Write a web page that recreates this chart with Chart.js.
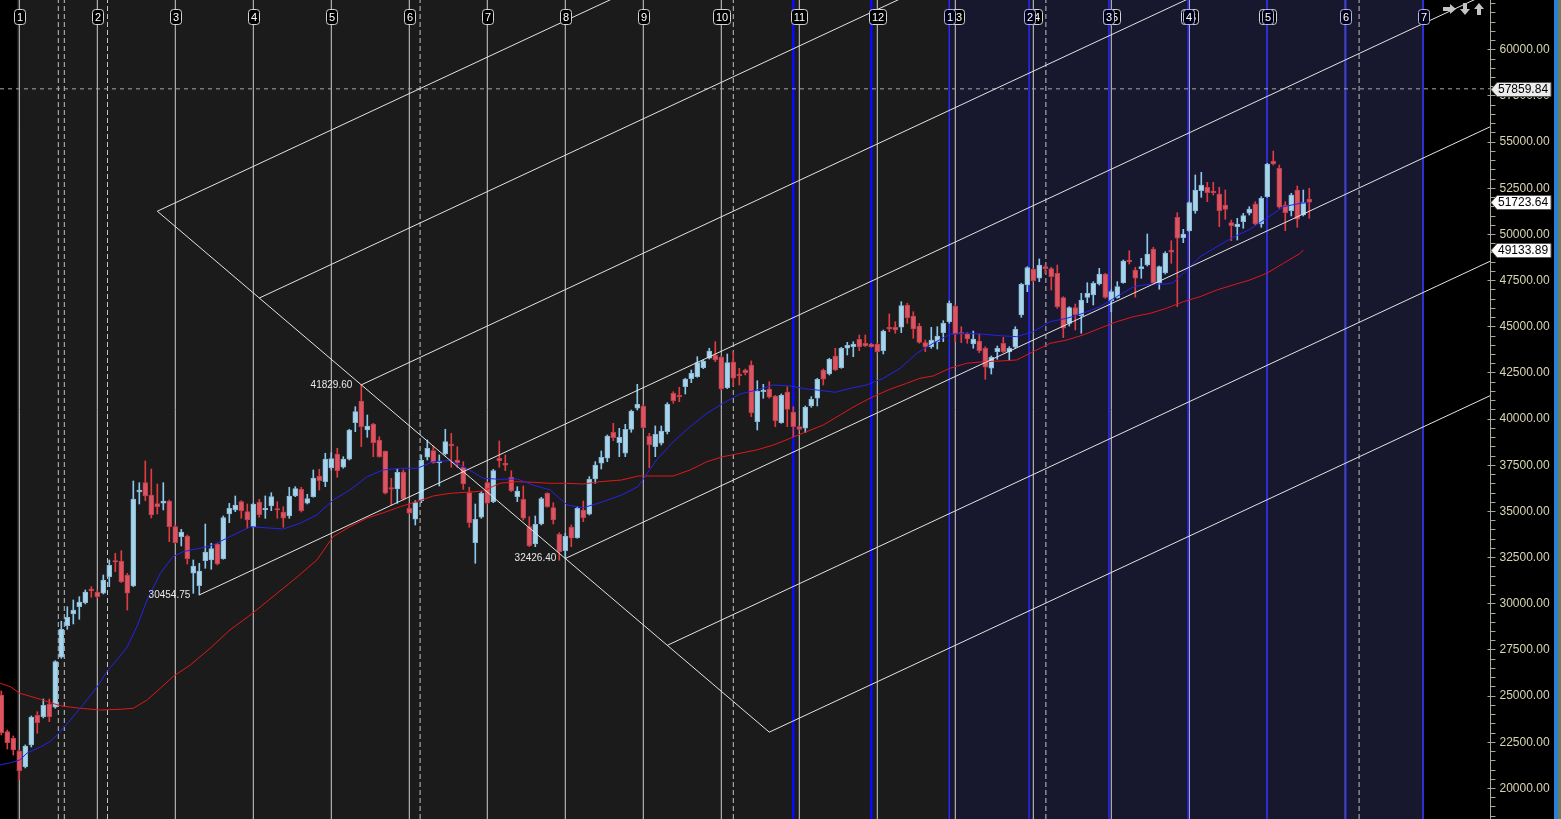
<!DOCTYPE html>
<html>
<head>
<meta charset="utf-8">
<title>Index daily with pitchfork and cycles</title>
<script src="https://cdn.jsdelivr.net/npm/chart.js@4.4.1/dist/chart.umd.min.js"></script>
<style>
  html, body { margin: 0; padding: 0; background: #000; overflow: hidden; }
  #wrap { width: 1561px; height: 819px; }
</style>
</head>
<body>
<div id="wrap"><canvas id="chart" width="1561" height="819"></canvas></div>
<script>
// Daily candles, bar index 0..218
const opens = [
  25036, 23048, 22691, 22003, 21153, 22328, 23937, 23861, 24548, 24370,
  27077, 28788, 29422, 29817, 30034, 30776, 30613, 30543, 31442, 32308,
  32292, 31534, 30938, 36028, 36532, 35866, 35395, 35416, 35541, 34149,
  33608, 33646, 31626, 30954, 32308, 32346, 33212, 32416, 34837, 35054,
  35503, 34961, 34149, 35487, 35054, 35270, 35124, 34945, 34729, 35812,
  36174, 35416, 35774, 36895, 36586, 37328, 38086, 37366, 37799, 39781,
  40956, 39385, 39710, 38844, 38248, 36261, 36191, 37111, 35146, 34550,
  35557, 37907, 38265, 37615, 38086, 38627, 37761, 37366, 35990, 33283,
  34658, 36532, 35503, 37853, 37582, 36824, 35774, 35633, 34149, 33212,
  34295, 35958, 35178, 33738, 32850, 34117, 33553, 35054, 34821, 36732,
  37582, 37853, 39261, 38698, 38124, 39423, 40561, 40685, 39061, 38481,
  38665, 39293, 41373, 41264, 41730, 42163, 42272, 42759, 43268, 43430,
  43338, 41676, 43068, 42418, 42634, 42905, 39835, 41459, 41606, 41227,
  39781, 41443, 40360, 39564, 39478, 40685, 41102, 42634, 42418, 43393,
  42759, 43810, 43896, 44297, 44080, 44042, 44042, 43680, 44947, 44947,
  44947, 46154, 45559, 45017, 44113, 43896, 44167, 44654, 45250, 46100,
  44654, 44584, 44042, 44205, 43810, 42727, 43625, 44080, 43625, 43864,
  45613, 47237, 48104, 47600, 48228, 48120, 47871, 46549, 45163, 46008,
  45575, 46571, 46696, 47291, 47833, 46387, 46549, 47362, 48591, 48050,
  48120, 48320, 49187, 47362, 47903, 49132, 50903, 49799, 50178, 51244,
  52344, 52528, 52327, 52165, 51569, 50611, 50394, 50665, 51120, 51623,
  50540, 52019, 53952, 53557, 51569, 51261, 52381, 51028, 51894
];
const highs = [
  25252, 23140, 22816, 22058, 22328, 23899, 24131, 24819, 24819, 26893,
  29027, 29817, 30180, 30359, 30721, 30900, 30694, 31534, 32346, 32709,
  32850, 31626, 36624, 36532, 37707, 37274, 36461, 36532, 35595, 34241,
  34008, 33700, 32346, 32167, 34295, 33250, 33250, 34729, 35416, 35812,
  35557, 35378, 35416, 35633, 35812, 35990, 35503, 35232, 36283, 36315,
  36283, 35904, 37220, 37257, 38124, 38156, 38395, 37940, 39423, 40647,
  41829.60, 40198, 39748, 39023, 38248, 36770, 37257, 37220, 35416, 35557,
  38032, 38844, 38519, 38032, 39423, 39207, 38481, 37669, 36283, 35378,
  36044, 36586, 37257, 38790, 38032, 37182, 36315, 36353, 34691, 34729,
  35741, 35990, 35449, 33824, 33792, 34241, 35232, 35541, 36857, 37669,
  38248, 39115, 39748, 39478, 39694, 40468, 41860, 40739, 39207, 39602,
  39602, 40864, 41459, 41698, 42185, 42634, 43355, 43176, 43810, 44167,
  43355, 43501, 43625, 42727, 42689, 43122, 42055, 41860, 42001, 41264,
  41335, 41730, 40647, 39602, 40685, 41189, 42185, 42689, 43268, 43810,
  43864, 44134, 44167, 44530, 44530, 44080, 44080, 44800, 45667, 45250,
  46333, 46246, 45791, 45163, 44259, 44947, 44979, 45304, 46371, 46154,
  44979, 44654, 44746, 44584, 43896, 43393, 43934, 44405, 43896, 44979,
  47329, 48228, 48142, 48645, 48320, 48196, 48320, 46604, 46062, 46208,
  46788, 47362, 47416, 48142, 47871, 46966, 47416, 48591, 49095, 48196,
  48683, 49999, 49279, 48266, 49040, 49636, 51152, 50253, 51748, 53194,
  53340, 52799, 52799, 52528, 52381, 50757, 50849, 51120, 51477, 51748,
  52019, 53827, 54493, 53735, 51748, 52203, 52598, 52381, 52474
];
const lows = [
  22870, 22112, 21787, 20433, 21083, 22220, 22962, 23790, 23590, 24316,
  27023, 28593, 28880, 29135, 29963, 30326, 30288, 30505, 30900, 31712,
  31117, 29638, 30900, 35378, 35557, 34620, 34837, 35054, 33337, 33239,
  33104, 32129, 30543, 30454.75, 31897, 31842, 32075, 32384, 34366, 34961,
  34604, 34063, 34117, 34658, 34604, 35016, 34604, 34117, 34604, 35774,
  34945, 35378, 35746, 36136, 36315, 37220, 36824, 37312, 37761, 39293,
  38481, 38990, 37940, 37907, 35920, 35324, 35416, 35595, 34837, 34241,
  35449, 37761, 37582, 36353, 38032, 37366, 37366, 36174, 34117, 32167,
  34604, 35378, 35449, 37366, 37182, 36044, 35503, 34512, 33066, 33066,
  34241, 35200, 34295, 32330, 32426.40, 33066, 33521, 34420, 34783, 36499,
  37274, 37669, 38806, 37940, 37940, 39261, 40468, 39478, 37344, 37940,
  38573, 39169, 40831, 40918, 41335, 41947, 42239, 42705, 43230, 43084,
  41551, 41622, 41768, 41822, 42364, 40106, 39385, 41102, 41102, 39564,
  39748, 39564, 39023, 39385, 39239, 40615, 40685, 41822, 42364, 42597,
  42727, 43447, 43355, 43680, 43896, 43864, 43593, 43501, 44708, 44622,
  44654, 45163, 44351, 44080, 43625, 43810, 43772, 44167, 45163, 44167,
  44113, 44080, 43810, 43571, 42131, 42418, 43214, 43571, 43176, 43810,
  45488, 46874, 47416, 47416, 47871, 46966, 45976, 44383, 45017, 44800,
  44622, 46279, 46154, 47237, 46517, 45791, 46517, 47329, 48374, 46571,
  47600, 48266, 47329, 47004, 47833, 48412, 46062, 49528, 50124, 51120,
  51986, 51748, 52111, 50394, 50795, 49636, 49674, 50308, 51028, 50486,
  50362, 51986, 53735, 51391, 50178, 50974, 50362, 50974, 50849
];
const closes = [
  22994, 22453, 22058, 20937, 22274, 23844, 23536, 24478, 23861, 26839,
  28593, 29243, 29638, 30072, 30613, 30684, 30359, 31263, 32059, 32238,
  31171, 30543, 35649, 36136, 35812, 34783, 35232, 35541, 34149, 33283,
  33862, 32416, 32021, 31750, 32779, 32958, 32129, 34637, 35146, 35324,
  35016, 34512, 35378, 34799, 35146, 35774, 35054, 34604, 35812, 36207,
  35016, 35666, 36786, 36640, 37815, 37831, 37182, 37815, 39385, 40376,
  39564, 39602, 38698, 37940, 35958, 36174, 37095, 35633, 34875, 35449,
  37761, 38395, 37615, 37707, 38752, 38519, 37615, 36461, 34366, 34550,
  35958, 35416, 37182, 37723, 37474, 36099, 36082, 34604, 33120, 34279,
  35666, 35232, 34512, 32795, 33646, 33521, 35146, 34637, 36716, 37490,
  37907, 39061, 38968, 38990, 39423, 40414, 40777, 39510, 38573, 39153,
  39331, 40777, 40972, 41189, 42147, 42456, 43030, 43122, 43663, 43176,
  41606, 43030, 42185, 42310, 42488, 40322, 41497, 41551, 41156, 39889,
  41264, 40506, 39564, 39423, 40631, 41048, 42131, 42131, 43214, 42634,
  43810, 43972, 44042, 43896, 43950, 43896, 43625, 44746, 44855, 44800,
  46127, 45467, 44855, 44134, 43896, 44259, 44476, 45163, 46246, 44568,
  44584, 44313, 44313, 43680, 42781, 43322, 43810, 43625, 43810, 44838,
  47275, 48174, 47470, 48320, 48120, 47687, 46062, 44893, 46008, 45613,
  46425, 46788, 47329, 47833, 46571, 46874, 47145, 48537, 48499, 47600,
  48228, 48916, 47362, 48228, 48954, 49008, 49766, 49999, 51694, 52381,
  52652, 52235, 52235, 51261, 51336, 50448, 50540, 50990, 51353, 50540,
  51932, 53789, 53789, 51445, 51152, 52111, 50795, 51694, 51723.64
];

// Moving averages: [bar index, value]
const maFast = [
  [-0.2, 21245], [1.5, 21370], [3.1, 21516], [4.3, 21895], [6.5, 22220], [8.1, 22507], [9.3, 22870],
  [11.5, 23682], [13.6, 24494], [16, 25485], [17.6, 26298], [19.8, 27148], [21, 27652], [22.6, 28735],
  [24.3, 30180], [26.5, 31625], [28.6, 32526], [30.3, 32795], [33.1, 32980], [35.3, 33158], [38.1, 33608],
  [41.5, 34149], [47, 34024], [49.8, 34333], [52.6, 34783], [55.3, 35595], [58.1, 36136], [61, 36856],
  [63.6, 37220], [66.5, 37312], [69.3, 37312], [72, 37669], [74.8, 37723], [77.6, 37312], [80.3, 36770],
  [83.1, 36716], [86, 36732], [88.6, 36407], [91.5, 36136], [94.3, 35324], [97, 35178], [99.8, 35449],
  [103.4, 35866], [106.1, 36315], [109.2, 37761], [112, 38752], [114.8, 39564], [117.6, 40290],
  [120.3, 40831], [123.1, 41335], [125.9, 41551], [128.7, 41822], [131.5, 41768], [134.2, 41606],
  [137, 41514], [139, 41427], [141.5, 41643], [144.2, 41822], [147, 42185], [149.8, 42727], [152.6, 43539],
  [155.3, 44080], [158.1, 44568], [160.9, 44622], [163.7, 44568], [166.5, 44492], [169.2, 44438],
  [172, 44709], [174.8, 45250], [177.6, 45434], [180.3, 45705], [183.1, 46062], [185.9, 46604],
  [188.7, 47145], [191.5, 47291], [194.2, 47291], [195.3, 47362], [197, 47871], [199.8, 48770],
  [202.6, 49311], [205.3, 49820], [208.1, 50253], [210.9, 50849], [213.7, 51477], [216.5, 51661], [217.8, 51694]
];
const maSlow = [
  [-0.2, 25669], [1.5, 25485], [3.1, 25128], [6.5, 24803], [9.8, 24456], [13.1, 24316], [16.5, 24224],
  [19.8, 24261], [22, 24316], [24.3, 24765], [26.5, 25399], [28.6, 26027], [31.5, 26660], [34.8, 27565],
  [38.1, 28555], [41.5, 29367], [48.7, 31263], [52.6, 32346], [55.3, 33608], [58.1, 34149], [60.9, 34604],
  [63.7, 34907], [66.5, 35232], [69.2, 35503], [72, 35812], [74.8, 35958], [77.6, 36012], [80.3, 36082],
  [83.1, 36499], [85.9, 36586], [88.7, 36553], [91.5, 36499], [94.2, 36499], [97, 36461], [99.8, 36586],
  [103.4, 36678], [106.2, 36895], [109, 36895], [112, 36895], [114.8, 37220], [117.6, 37669], [120.3, 37940],
  [123.1, 38124], [125.9, 38303], [128.7, 38573], [131.5, 38936], [134.2, 39293], [137, 39656],
  [139.8, 40198], [142.6, 40739], [145.3, 41189], [148.1, 41589], [150.9, 41914], [153.1, 42185],
  [155.3, 42310], [158.1, 42727], [160.9, 42997], [163.7, 43084], [166.5, 43122], [169.2, 43176],
  [172, 43625], [174.8, 44080], [177.6, 44259], [180.3, 44530], [183.1, 44893], [185.9, 45250],
  [188.7, 45521], [191.5, 45705], [194.2, 45976], [197, 46333], [199.8, 46604], [202.6, 46967],
  [205.3, 47237], [208.1, 47508], [210.9, 47871], [213.7, 48412], [216.5, 48954], [217, 49133.89]
];

// Andrews pitchfork: pivot bars and prices, and levels along the P2-P3 handle
const pivotIdx = [33, 60, 94];
const pivotVal = [30454.75, 41829.60, 32426.40];
const forkLevels = [-1, -0.5, 0, 1, 1.5, 2];

// Time cycle lines (bar index) and their labels
const whiteCycle = [3, 16, 29, 42, 55, 68, 81, 94, 107, 120, 133, 146, 159, 172, 185, 198, 211, 224, 237];
const whiteLabels = ["1", "2", "3", "4", "5", "6", "7", "8", "9", "10", "11", "12", "13", "14", "15", "16", "17"];
const blueThick = [132, 145];
const blueCycle = [158, 171.3, 184.6, 197.8, 211, 224.1, 237];
const blueLabels = ["1", "2", "3", "4", "5", "6", "7"];
const dashedCycle = [9.5, 10.5, 17.7, 69.8, 122, 174.1, 226.3];

// Shaded periods (bar index)
const bandFrom = [2.6, 158];
const bandTo = [158, 237];

// Horizontal level and right-hand price tags
const levelLine = 57859.84;
const priceTags = [57859.84, 51723.64, 49133.89];

// Axis
const yTicks = [20000, 22500, 25000, 27500, 30000, 32500, 35000, 37500, 40000, 42500, 45000, 47500, 50000, 52500, 55000, 57500, 60000];
const xMin = -0.217, xMax = 248.12;
const yMin = 18320, yMax = 62670;

// ---- build datasets ----
const BLUE_BODY = "#a9d3e9", RED_BODY = "#dc5460";
const BLUE_WICK = "#8cc8ee", RED_WICK = "#e03c40";
const isUp = opens.map((o, i) => closes[i] >= o);

const wickData = opens.map((o, i) => ({ x: i, y: [lows[i], highs[i]] }));
const bodyData = opens.map((o, i) => ({ x: i, y: [o, closes[i]] }));

function verticalSegments(list) {
  const pts = [];
  list.forEach((v) => {
    pts.push({ x: v, y: yMin }, { x: v, y: yMax }, { x: v, y: null });
  });
  return pts;
}

// pitchfork geometry from pivots
const handleDi = pivotIdx[2] - pivotIdx[1];
const handleDv = pivotVal[2] - pivotVal[1];
const midIdx = pivotIdx[1] + handleDi / 2;
const midVal = pivotVal[1] + handleDv / 2;
const forkSlope = (midVal - pivotVal[0]) / (midIdx - pivotIdx[0]);

function handlePoint(t) {
  return { x: pivotIdx[1] + handleDi * t, y: pivotVal[1] + handleDv * t };
}
function rayToEdge(p) {
  return [p, { x: xMax, y: p.y + forkSlope * (xMax - p.x) }];
}

const forkSets = [];
forkSets.push([handlePoint(forkLevels[0]), handlePoint(forkLevels[forkLevels.length - 1])]);
forkSets.push(rayToEdge({ x: pivotIdx[0], y: pivotVal[0] }));
forkLevels.forEach((t) => forkSets.push(rayToEdge(handlePoint(t))));

const lineBase = {
  type: "line",
  pointRadius: 0,
  borderWidth: 1,
  fill: false,
  tension: 0,
  spanGaps: false,
};

const datasets = [
  { ...lineBase, data: verticalSegments(whiteCycle), borderColor: "#cfcfcf", order: 20 },
  { ...lineBase, data: verticalSegments(dashedCycle), borderColor: "#c4c4c4", borderDash: [5, 3], order: 19 },
  { ...lineBase, data: verticalSegments(blueThick), borderColor: "#0a0aff", borderWidth: 2.5, order: 18 },
  { ...lineBase, data: verticalSegments(blueCycle), borderColor: "#2828ff", borderWidth: 1.5, order: 17 },
  {
    ...lineBase,
    data: [{ x: xMin, y: levelLine }, { x: xMax, y: levelLine }],
    borderColor: "#a8a8a8",
    borderDash: [4, 4],
    order: 16,
  },
  {
    type: "bar",
    data: wickData,
    backgroundColor: isUp.map((u) => (u ? BLUE_WICK : RED_WICK)),
    barThickness: 1,
    grouped: false,
    order: 12,
  },
  {
    type: "bar",
    data: bodyData,
    backgroundColor: isUp.map((u) => (u ? BLUE_BODY : RED_BODY)),
    borderColor: isUp.map((u) => (u ? "#86b9d6" : "#b84050")),
    borderWidth: 1,
    borderSkipped: false,
    barThickness: 5,
    minBarLength: 1,
    grouped: false,
    order: 11,
  },
  { ...lineBase, data: maSlow.map(([x, y]) => ({ x, y })), borderColor: "#e01818", order: 6 },
  { ...lineBase, data: maFast.map(([x, y]) => ({ x, y })), borderColor: "#2424e8", order: 5 },
];
forkSets.forEach((pts) => {
  datasets.push({ ...lineBase, data: pts, borderColor: "#e4e4e4", order: 2 });
});

// ---- plugins ----
const backdrop = {
  id: "backdrop",
  beforeDraw(chart) {
    const { ctx, width, height } = chart;
    ctx.save();
    ctx.fillStyle = "#000";
    ctx.fillRect(0, 0, width, height);
    ctx.restore();
  },
  beforeDatasetsDraw(chart) {
    const { ctx, chartArea, scales } = chart;
    const colors = ["#1b1b1b", "#17172e"];
    ctx.save();
    bandFrom.forEach((from, i) => {
      const x0 = scales.x.getPixelForValue(from);
      const x1 = scales.x.getPixelForValue(bandTo[i]);
      ctx.fillStyle = colors[i];
      ctx.fillRect(x0, chartArea.top, x1 - x0, chartArea.bottom - chartArea.top);
    });
    ctx.restore();
  },
};

function cycleBox(ctx, cx, text, stroke, fill) {
  ctx.font = '11px "Liberation Sans", Arial, sans-serif';
  const w = Math.round(ctx.measureText(text).width) + 5;
  const left = Math.round(cx - w / 2) + 0.5;
  ctx.beginPath();
  ctx.roundRect(left, 9.5, w, 15, 3);
  ctx.fillStyle = fill;
  ctx.fill();
  ctx.strokeStyle = stroke;
  ctx.lineWidth = 1;
  ctx.stroke();
  ctx.fillStyle = "#ffffff";
  ctx.textAlign = "center";
  ctx.textBaseline = "middle";
  ctx.fillText(text, left + w / 2, 17.5);
}

function priceTag(ctx, yPix, text, fill) {
  const x0 = 1491, x1 = 1551, h = 14;
  const top = Math.round(yPix - h / 2) + 0.5;
  ctx.beginPath();
  ctx.moveTo(x0, top + h / 2);
  ctx.lineTo(x0 + 6, top);
  ctx.lineTo(x1, top);
  ctx.lineTo(x1, top + h);
  ctx.lineTo(x0 + 6, top + h);
  ctx.closePath();
  ctx.fillStyle = fill;
  ctx.fill();
  ctx.strokeStyle = "#5a5a5a";
  ctx.lineWidth = 1;
  ctx.stroke();
  ctx.fillStyle = "#000";
  ctx.font = '12px "Liberation Sans", Arial, sans-serif';
  ctx.textAlign = "left";
  ctx.textBaseline = "middle";
  ctx.fillText(text, x0 + 7, top + h / 2 + 0.5);
}

// small toolbar arrows in the top right corner
function toolbarArrows(ctx) {
  ctx.fillStyle = "#c4c4c4";
  // right
  ctx.beginPath();
  ctx.moveTo(1443, 7); ctx.lineTo(1450, 7); ctx.lineTo(1450, 4); ctx.lineTo(1456, 9);
  ctx.lineTo(1450, 14); ctx.lineTo(1450, 11); ctx.lineTo(1443, 11); ctx.closePath();
  ctx.fill();
  // down
  ctx.beginPath();
  ctx.moveTo(1463, 3); ctx.lineTo(1467, 3); ctx.lineTo(1467, 9); ctx.lineTo(1470, 9);
  ctx.lineTo(1465, 15); ctx.lineTo(1460, 9); ctx.lineTo(1463, 9); ctx.closePath();
  ctx.fill();
  // up
  ctx.beginPath();
  ctx.moveTo(1477, 15); ctx.lineTo(1481, 15); ctx.lineTo(1481, 9); ctx.lineTo(1484, 9);
  ctx.lineTo(1479, 3); ctx.lineTo(1474, 9); ctx.lineTo(1477, 9); ctx.closePath();
  ctx.fill();
}

const overlay = {
  id: "overlay",
  afterDatasetsDraw(chart) {
    const { ctx, chartArea, scales } = chart;
    const xs = scales.x, ys = scales.y;
    ctx.save();

    // pivot labels
    ctx.font = '10px "Liberation Sans", Arial, sans-serif';
    ctx.fillStyle = "#e8e8e8";
    ctx.textAlign = "right";
    ctx.textBaseline = "middle";
    pivotIdx.forEach((idx, i) => {
      ctx.fillText(pivotVal[i].toFixed(2), xs.getPixelForValue(idx) - 9, ys.getPixelForValue(pivotVal[i]));
    });

    // cycle labels
    whiteLabels.forEach((t, i) => cycleBox(ctx, xs.getPixelForValue(whiteCycle[i]), t, "#d4d4d4", "#000"));
    blueLabels.forEach((t, i) => cycleBox(ctx, xs.getPixelForValue(blueCycle[i]), t, "#b4b4e4", "#000018"));

    toolbarArrows(ctx);

    // right price axis
    const axisX = chartArea.right + 0.5;
    ctx.strokeStyle = "#a8a898";
    ctx.lineWidth = 1;
    ctx.beginPath();
    ctx.moveTo(axisX, 0);
    ctx.lineTo(axisX, chart.height);
    for (let v = 18500; v <= 62500; v += 500) {
      const y = Math.round(ys.getPixelForValue(v)) + 0.5;
      ctx.moveTo(axisX, y);
      ctx.lineTo(axisX + 5, y);
    }
    yTicks.forEach((v) => {
      const y = Math.round(ys.getPixelForValue(v)) + 0.5;
      ctx.moveTo(axisX - 3, y);
      ctx.lineTo(axisX + 3, y);
    });
    ctx.stroke();

    ctx.font = '12px "Liberation Sans", Arial, sans-serif';
    ctx.fillStyle = "#d8d5b2";
    ctx.textAlign = "left";
    ctx.textBaseline = "middle";
    yTicks.forEach((v) => {
      ctx.fillText(v.toFixed(2), axisX + 9, ys.getPixelForValue(v) + 0.5);
    });

    priceTags.forEach((v, i) => {
      priceTag(ctx, ys.getPixelForValue(v), v.toFixed(2), i === 0 ? "#ececec" : "#ffffff");
    });

    // window edge on the right
    ctx.fillStyle = "#2b80d6";
    ctx.fillRect(1554, 0, 4, chart.height);
    ctx.fillStyle = "#6f7d5e";
    ctx.fillRect(1558, 0, 3, chart.height);

    ctx.restore();
  },
};

new Chart(document.getElementById("chart"), {
  type: "bar",
  data: { datasets },
  plugins: [backdrop, overlay],
  options: {
    responsive: false,
    animation: false,
    events: [],
    layout: { padding: { left: 0, top: 0, bottom: 0, right: 71 } },
    plugins: { legend: { display: false }, tooltip: { enabled: false } },
    scales: {
      x: { type: "linear", min: xMin, max: xMax, offset: false, display: false, grid: { display: false } },
      y: { type: "linear", min: yMin, max: yMax, display: false, grid: { display: false } },
    },
  },
});
</script>
</body>
</html>
